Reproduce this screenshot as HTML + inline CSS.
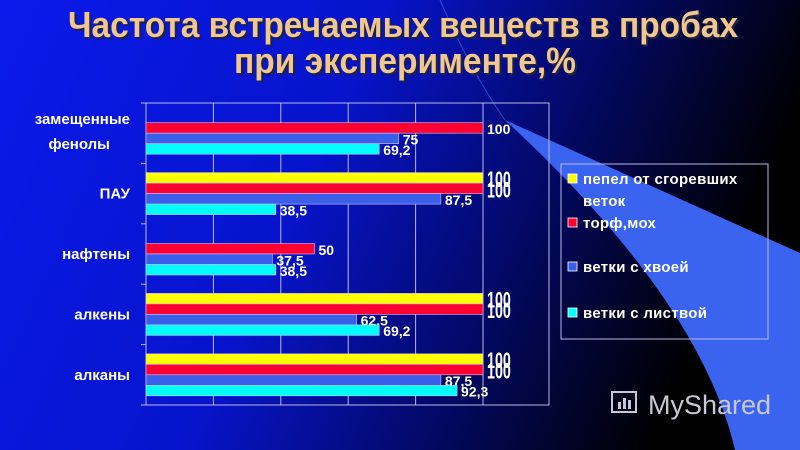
<!DOCTYPE html>
<html><head><meta charset="utf-8"><style>
html,body{margin:0;padding:0;width:800px;height:450px;overflow:hidden}
svg{display:block}
text{font-family:"Liberation Sans","DejaVu Sans",sans-serif}
</style></head><body>
<svg id="c" width="800" height="450" viewBox="0 0 800 450">
<defs>
<linearGradient id="bg" x1="0" y1="0" x2="1" y2="0.25">
<stop offset="0" stop-color="#0a1aea"/><stop offset="0.45" stop-color="#0714cc"/>
<stop offset="0.72" stop-color="#03096a"/><stop offset="1" stop-color="#000"/>
</linearGradient>
</defs>
<rect width="800" height="450" fill="url(#bg)"/>
<path d="M505,120 L800,253 L800,450 L735,450 Q700,300 505,120 Z" fill="#3a63f0"/>
<path d="M440,0 Q470,70 505,120" stroke="#4a70f0" stroke-width="1" fill="none" opacity="0.6"/>
<g>
<text x="403" y="37" text-anchor="middle" font-size="36" font-weight="bold" fill="#202040" textLength="670" lengthAdjust="spacingAndGlyphs" transform="translate(2,2)">Частота встречаемых веществ в пробах</text>
<text x="403" y="37" text-anchor="middle" font-size="36" font-weight="bold" fill="#f0c88e" textLength="670" lengthAdjust="spacingAndGlyphs">Частота встречаемых веществ в пробах</text>
<text x="405" y="73" text-anchor="middle" font-size="36" font-weight="bold" fill="#202040" textLength="342" lengthAdjust="spacingAndGlyphs" transform="translate(2,2)">при эксперименте,%</text>
<text x="405" y="73" text-anchor="middle" font-size="36" font-weight="bold" fill="#f0c88e" textLength="342" lengthAdjust="spacingAndGlyphs">при эксперименте,%</text>
</g>
<g id="plot"></g>
<g>
<rect x="561" y="164" width="207" height="175" fill="none" stroke="#b8b8e8" stroke-width="1"/>
<g id="leg"></g>
</g>
<g>
<rect x="612" y="392" width="24" height="20" fill="none" stroke="#c8c8d8" stroke-width="2"/>
<rect x="618" y="402" width="3" height="7" fill="#c8c8d8"/><rect x="623" y="398" width="3" height="11" fill="#c8c8d8"/><rect x="628" y="400" width="3" height="9" fill="#c8c8d8"/>
<text x="648" y="414" font-size="27" fill="#c8c8d8">MyShared</text>
</g>
</svg>
<script>
const categories=["замещенные фенолы","ПАУ","нафтены","алкены","алканы"];
const seriesNames=["пепел от сгоревших веток","торф,мох","ветки с хвоей","ветки с листвой"];
const seriesColors=["#ffff00","#ff0030","#3a5fe8","#00ffff"];
const ashValues=[0,100,0,100,100];
const peatValues=[100,100,50,100,100];
const needleValues=[75,87.5,37.5,62.5,87.5];
const leafValues=[69.2,38.5,38.5,69.2,92.3];
const valueTicks=[0,20,40,60,80,100];

const NS="http://www.w3.org/2000/svg";
const X0=146,X1=483,Y0=103,Y1=405,FR=549;
const xs=v=>X0+(v/100)*(X1-X0);
const band=(Y1-Y0)/categories.length;
const barH=10.5;
function mk(tag,at,parent){const e=document.createElementNS(NS,tag);for(const k in at)e.setAttribute(k,at[k]);parent.appendChild(e);return e;}
const plot=document.getElementById('plot');
const frame=mk('rect',{x:X0,y:Y0,width:FR-X0,height:Y1-Y0,fill:'none',stroke:'#b8b8e8','stroke-width':1},plot);


valueTicks.forEach(t=>{if(t===0)return;const g=mk('line',{x1:xs(t),x2:xs(t),y1:Y0,y2:Y1,stroke:'#b8b8e8','stroke-width':1},plot);

});
for(let i=0;i<=categories.length;i++){const y=Y0+i*band;const t=mk('line',{x1:X0-5,x2:X0,y1:y,y2:y,stroke:'#b8b8e8'},plot);

}
const series=[ashValues,peatValues,needleValues,leafValues];
categories.forEach((c,i)=>{
  const top=Y0+i*band;const mid=top+band/2;
  const words=c.split(' ');
  const lab=mk('text',{x:130,y:0,'text-anchor':'end','font-size':15,'font-weight':'bold',fill:'#fff'},plot);
  
  
  if(words.length>1){
    mk('tspan',{x:130,y:mid-9},lab).textContent=words[0];
    mk('tspan',{x:110,y:mid+16},lab).textContent=words[1];
  }else{lab.setAttribute('y',mid+5);lab.textContent=c;}
  const gs=top+(band-4*barH)/2;
  series.forEach((s,j)=>{
    const v=s[i];if(!v)return;
    const y=gs+j*barH;
    const r=mk('rect',{x:X0,y:y,width:xs(v)-X0,height:barH,fill:seriesColors[j],stroke:'#d0c0ff','stroke-width':0.6},plot);
    
    
    const big=(v===100&&(j===0||(j===1&&s[i]&&series[0][i])));
    const lt=mk('text',{x:xs(v)+4,y:y+barH/2+(big?9:6),'font-size':big?22:14,'font-weight':'bold',fill:'#fff'},plot);
    if(big)lt.setAttribute('transform',`translate(${(xs(v)+4)*0.35},0) scale(0.65,1)`);
    
    
    lt.textContent=String(v).replace('.',',');
  });
});
const leg=document.getElementById('leg');
const legY=[180,224,268,314];
seriesNames.forEach((n,j)=>{
  const sw=mk('rect',{x:568,y:legY[j]-6,width:9,height:9,fill:seriesColors[j],stroke:'#fff','stroke-width':0.8},leg);
  
  
  const t=mk('text',{x:583,y:legY[j]+4,'font-size':15,'font-weight':'bold',fill:'#fff','letter-spacing':'0.3'},leg);
  
  
  if(j===0){mk('tspan',{x:583,y:legY[j]+4},t).textContent='пепел от сгоревших';mk('tspan',{x:583,y:legY[j]+26},t).textContent='веток';}
  else t.textContent=n;
});
</script>
</body></html>
